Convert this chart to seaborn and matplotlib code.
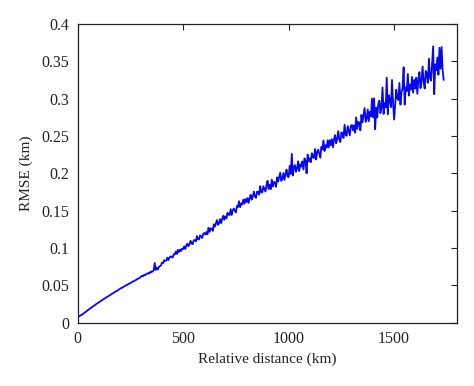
import matplotlib
matplotlib.use('Agg')
import matplotlib.pyplot as plt
import seaborn as sns
import pandas as pd

# RMSE every 5 km, 0 .. 1735 km
distance_km = list(range(0, 1736, 5))
rmse_km = [
    # 0-95
    0.0075, 0.0082, 0.0090, 0.0099, 0.0108, 0.0118, 0.0129, 0.0139, 0.0150, 0.0161,
    0.0172, 0.0182, 0.0193, 0.0203, 0.0214, 0.0224, 0.0233, 0.0244, 0.0253, 0.0263,
    # 100-195
    0.0272, 0.0283, 0.0290, 0.0302, 0.0309, 0.0320, 0.0328, 0.0337, 0.0348, 0.0354,
    0.0366, 0.0372, 0.0383, 0.0391, 0.0398, 0.0410, 0.0416, 0.0427, 0.0433, 0.0445,
    # 200-295
    0.0452, 0.0463, 0.0466, 0.0479, 0.0484, 0.0492, 0.0503, 0.0506, 0.0519, 0.0522,
    0.0534, 0.0538, 0.0549, 0.0555, 0.0563, 0.0572, 0.0578, 0.0590, 0.0593, 0.0605,
    # 300-395
    0.0618, 0.0628, 0.0622, 0.0641, 0.0636, 0.0652, 0.0660, 0.0655, 0.0674, 0.0669,
    0.0688, 0.0684, 0.0700, 0.0800, 0.0705, 0.0735, 0.0712, 0.0748, 0.0757, 0.0768,
    # 400-495
    0.0806, 0.0797, 0.0837, 0.0828, 0.0832, 0.0871, 0.0839, 0.0872, 0.0888, 0.0879,
    0.0871, 0.0916, 0.0914, 0.0953, 0.0921, 0.0975, 0.0946, 0.0979, 0.0959, 0.0992,
    # 500-595
    0.0986, 0.1022, 0.0986, 0.1032, 0.1059, 0.1023, 0.1050, 0.1096, 0.1060, 0.1051,
    0.1105, 0.1105, 0.1088, 0.1160, 0.1115, 0.1115, 0.1170, 0.1152, 0.1134, 0.1188,
    # 600-695
    0.1202, 0.1181, 0.1214, 0.1182, 0.1270, 0.1216, 0.1261, 0.1261, 0.1229, 0.1317,
    0.1285, 0.1330, 0.1374, 0.1309, 0.1331, 0.1387, 0.1333, 0.1388, 0.1433, 0.1378,
    # 700-795
    0.1423, 0.1396, 0.1472, 0.1445, 0.1443, 0.1520, 0.1441, 0.1504, 0.1529, 0.1501,
    0.1474, 0.1564, 0.1549, 0.1626, 0.1546, 0.1597, 0.1583, 0.1646, 0.1593, 0.1656,
    # 800-895
    0.1615, 0.1669, 0.1604, 0.1673, 0.1713, 0.1647, 0.1687, 0.1756, 0.1691, 0.1670,
    0.1755, 0.1749, 0.1714, 0.1828, 0.1748, 0.1742, 0.1827, 0.1791, 0.1756, 0.1840,
    # 900-995
    0.1900, 0.1790, 0.1846, 0.1787, 0.1916, 0.1823, 0.1884, 0.1876, 0.1818, 0.1946,
    0.1888, 0.1948, 0.2009, 0.1899, 0.1926, 0.2003, 0.1911, 0.1988, 0.2049, 0.1956,
    # 1000-1095
    0.1950, 0.2100, 0.1990, 0.2260, 0.1970, 0.2080, 0.2110, 0.2020, 0.2070, 0.2160,
    0.2030, 0.2120, 0.2090, 0.2160, 0.2050, 0.2200, 0.2170, 0.2000, 0.2250, 0.2160,
    # 1100-1195
    0.2202, 0.2148, 0.2269, 0.2215, 0.2204, 0.2326, 0.2184, 0.2283, 0.2317, 0.2262,
    0.2208, 0.2352, 0.2319, 0.2441, 0.2298, 0.2376, 0.2344, 0.2443, 0.2345, 0.2444,
    # 1200-1295
    0.2376, 0.2458, 0.2348, 0.2454, 0.2512, 0.2402, 0.2460, 0.2566, 0.2456, 0.2418,
    0.2548, 0.2534, 0.2472, 0.2650, 0.2516, 0.2502, 0.2632, 0.2570, 0.2508, 0.2638,
    # 1300-1395
    0.2646, 0.2574, 0.2642, 0.2542, 0.2750, 0.2594, 0.2690, 0.2674, 0.2574, 0.2782,
    0.2682, 0.2778, 0.2874, 0.2690, 0.2730, 0.2854, 0.2698, 0.2822, 0.2760, 0.3000,
    # 1400-1495
    0.2750, 0.3003, 0.2590, 0.2879, 0.2747, 0.2930, 0.2973, 0.2806, 0.2884, 0.3150,
    0.2795, 0.2943, 0.2881, 0.3280, 0.2792, 0.3045, 0.2983, 0.2886, 0.3250, 0.2937,
    # 1500-1595
    0.2720, 0.2910, 0.3120, 0.3010, 0.2980, 0.3210, 0.2920, 0.3090, 0.3140, 0.3420,
    0.2920, 0.3150, 0.3100, 0.3330, 0.3040, 0.3190, 0.3120, 0.3290, 0.3080, 0.3250,
    # 1600-1695
    0.3135, 0.3280, 0.3065, 0.3255, 0.3355, 0.3140, 0.3240, 0.3430, 0.3215, 0.3135,
    0.3370, 0.3335, 0.3210, 0.3535, 0.3275, 0.3240, 0.3475, 0.3700, 0.3060, 0.3460,
    # 1700-1735
    0.3380, 0.3550, 0.3320, 0.3680, 0.3400, 0.3690, 0.3380, 0.3250,
]

x_ticks = [0, 500, 1000, 1500]
y_ticks = [0, 0.05, 0.1, 0.15, 0.2, 0.25, 0.3, 0.35, 0.4]
y_tick_labels = ['0', '0.05', '0.1', '0.15', '0.2', '0.25', '0.3', '0.35', '0.4']

sns.set_theme(style='white')
plt.rcParams['font.family'] = ['Liberation Serif', 'DejaVu Serif']

df = pd.DataFrame({'dist': distance_km, 'rmse': rmse_km})

fig = plt.figure(figsize=(4.74, 3.86), dpi=100, facecolor='white')
ax = fig.add_axes([0.164, 0.164, 0.801, 0.774])

sns.lineplot(data=df, x='dist', y='rmse', ax=ax, color='#0808ee',
             linewidth=1.3, estimator=None, sort=False)

ax.set_xlim(0, 1800)
ax.set_ylim(0, 0.4)
ax.set_xticks(x_ticks)
ax.set_xticklabels([str(t) for t in x_ticks])
ax.set_yticks(y_ticks)
ax.set_yticklabels(y_tick_labels)
ax.tick_params(direction='in', top=True, right=True, length=4, width=0.8,
               labelsize=11.5, colors='#222222', pad=6)
for s in ax.spines.values():
    s.set_color('#222222')
    s.set_linewidth(0.9)

ax.set_xlabel('Relative distance (km)', fontsize=11, color='#222222', labelpad=4)
ax.set_ylabel('RMSE (km)', fontsize=11, color='#222222', labelpad=6)

fig.savefig('out.png', dpi=100, facecolor='white')
